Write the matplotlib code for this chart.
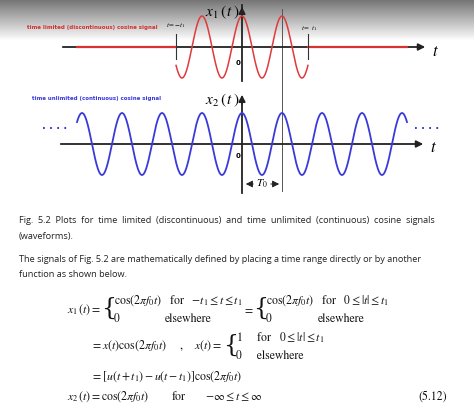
import numpy as np
import matplotlib
matplotlib.use("Agg")
import matplotlib.pyplot as plt

W, H = 474, 414
# signal parameters (in periods)
period = [1.0]
t1 = [1.65]
t_range = [-4.125, 4.125]
amplitude = [1.0]

fig = plt.figure(figsize=(W/100, H/100), dpi=100)
ax = fig.add_axes([0, 0, 1, 1])
ax.set_xlim(0, W); ax.set_ylim(H, 0); ax.axis("off")
plt.rcParams['mathtext.fontset'] = 'stix'

# gray gradient band at top
grad = np.linspace(0.45, 1.0, 50)[:, None] * np.ones((1, 10))
ax.imshow(grad, extent=(0, W, 42, 0), cmap="gray", vmin=0, vmax=1, aspect="auto", zorder=0)

x0, px = 242, 40.0
def tx(t): return x0 + np.asarray(t) * px

t = np.linspace(t_range[0], t_range[1], 2000)
y = amplitude[0] * np.cos(2*np.pi*t/period[0])
# top signal
yc1, A = 48, 31
ax.annotate("", xy=(428, yc1), xytext=(60, yc1), arrowprops=dict(arrowstyle="-|>", color="#222", lw=1.3))
ax.plot([x0, x0], [82, 6], color="#222", lw=1.3)
ax.annotate("", xy=(x0, 5), xytext=(x0, 20), arrowprops=dict(arrowstyle="-|>", color="#222", lw=1.2))
yl = np.where(np.abs(t) <= t1[0], y, 0)
ax.plot(tx(t[t < -t1[0]]), yc1 - A*yl[t < -t1[0]], color="#d93030", lw=1.6, zorder=5)
ax.plot(tx(t[t > t1[0]]), yc1 - A*yl[t > t1[0]], color="#d93030", lw=1.6, zorder=5)
m = np.abs(t) <= t1[0]
ax.plot(tx(t[m]), yc1 - A*y[m], color="#e03a3a", lw=1.1, zorder=5)
for s in (-1, 1):
    ax.plot([tx(s*t1[0])]*2, [35, 60], color="#333", lw=0.8, zorder=6)
ax.text(27, 28, "time limited (discontinuous) cosine signal", color="#d03030", fontsize=4, fontweight="bold", va="center")
ax.text(166, 26, "$t=-t_1$", fontsize=5, va="center")
ax.text(301, 29, "$t=\\ t_1$", fontsize=5, va="center")
ax.text(205, 12, "$x_1\\,(\\,t\\,)$", fontsize=11, va="center", fontweight="bold")
ax.text(236, 63, "0", fontsize=5, fontweight="bold", va="center")
ax.text(432, 51, "$t$", fontsize=12, va="center", fontweight="bold")

# bottom signal
yc2 = 145
ax.annotate("", xy=(426, yc2), xytext=(58, yc2), arrowprops=dict(arrowstyle="-|>", color="#222", lw=1.3))
ax.plot([x0, x0], [194, 100], color="#222", lw=1.3)
ax.annotate("", xy=(x0, 93), xytext=(x0, 108), arrowprops=dict(arrowstyle="-|>", color="#222", lw=1.2))
ax.plot(tx(t), yc2 - A*y, color="#3a3ad8", lw=1.3, zorder=5)
ax.text(32, 99, "time unlimited (continuous) cosine signal", color="#3a3ae0", fontsize=4, fontweight="bold", va="center")
ax.text(205, 100, "$x_2\\,(\\,t\\,)$", fontsize=11, va="center", fontweight="bold")
ax.text(236, 156, "0", fontsize=5, fontweight="bold", va="center")
ax.text(430, 147, "$t$", fontsize=12, va="center", fontweight="bold")
ax.text(42, 129, "· · · ·", color="#3a3ad8", fontsize=7, va="center", fontweight="bold")
ax.text(414, 129, "· · · ·", color="#3a3ad8", fontsize=7, va="center", fontweight="bold")
ax.plot([tx(period[0])]*2, [10, 192], color="#555", lw=0.7)
ax.annotate("", xy=(x0+1, 185), xytext=(x0+14, 185), arrowprops=dict(arrowstyle="-|>", lw=0.7, color="#222"))
ax.annotate("", xy=(tx(period[0]), 185), xytext=(tx(period[0])-14, 185), arrowprops=dict(arrowstyle="-|>", lw=0.7, color="#222"))
ax.text(262, 184, "$T_0$", fontsize=8, ha="center", va="center")

# text
tf = dict(fontsize=6.6, family="Open Sans", color="#222", va="center")
ax.text(19, 221, "Fig.  5.2  Plots  for  time  limited  (discontinuous)  and  time  unlimited  (continuous)  cosine  signals", **tf)
ax.text(19, 237, "(waveforms).", **tf)
ax.text(19, 260, "The signals of Fig. 5.2 are mathematically defined by placing a time range directly or by another", **tf)
ax.text(19, 275, "function as shown below.", **tf)

ef = dict(fontsize=8.5, family="STIXGeneral", color="#111", va="center")
bf = dict(fontsize=17, family="DejaVu Serif", color="#111", va="center", fontweight="light")
ax.text(67, 310, "$x_1\\,(t)=$", **ef)
ax.text(101, 308, "{", **bf)
ax.text(114, 301, "$\\cos(2\\pi f_0 t)$   for   $-t_1 \\leq t \\leq t_1$", **ef)
ax.text(114, 319, "0", **ef)
ax.text(165, 319, "elsewhere", **ef)
ax.text(243, 310, "$=$", **ef)
ax.text(253, 308, "{", **bf)
ax.text(266, 301, "$\\cos(2\\pi f_0 t)$   for   $0\\leq|t|\\leq t_1$", **ef)
ax.text(266, 319, "0", **ef)
ax.text(318, 319, "elsewhere", **ef)
ax.text(91, 346, "$=x(t)\\cos(2\\pi f_0 t)$     ,    $x(t)=$", **ef)
ax.text(223, 345, "{", **bf)
ax.text(236, 338, "1     for   $0\\leq|t|\\leq t_1$", **ef)
ax.text(236, 356, "0     elsewhere", **ef)
ax.text(91, 377, "$=[u(t+t_1)-u(t-t_1)]\\cos(2\\pi f_0 t)$", **ef)
ax.text(67, 397, "$x_2\\,(t)=\\cos(2\\pi f_0 t)$        for       $-\\infty\\leq t\\leq\\infty$", **ef)
ax.text(447, 397, "(5.12)", ha="right", **ef)

fig.savefig("out.png", dpi=100)
